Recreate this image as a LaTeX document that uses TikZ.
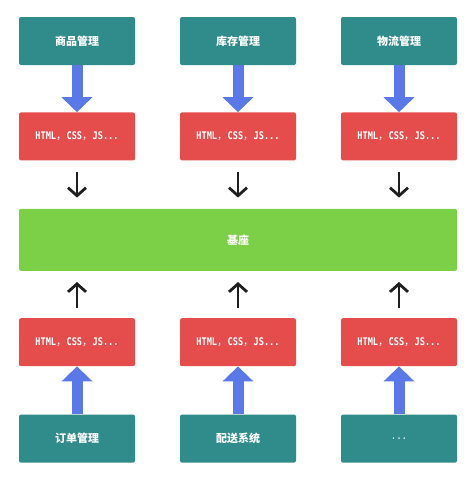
\documentclass[tikz,border=0pt]{standalone}
\usepackage{fontspec}
\newfontfamily\cjk{Noto Sans CJK SC}
\newfontfamily\codefont[FakeStretch=0.82]{DejaVu Sans Mono}
\usetikzlibrary{positioning,arrows.meta}
\definecolor{teal1}{RGB}{47,140,138}
\definecolor{red1}{RGB}{229,77,77}
\definecolor{green1}{RGB}{123,208,72}
\definecolor{blue1}{RGB}{91,120,232}
\newcommand{\webstack}{{\codefont\bfseries HTML{\cjk\mdseries ，}CSS{\cjk\mdseries ，}JS...}}

\begin{document}
\begin{tikzpicture}[module/.style = {rectangle, fill=teal1, text=white, font=\cjk\bfseries\fontsize{11}{13}\selectfont, minimum width=116pt, minimum height=48pt, inner sep=0pt, rounded corners=2pt}, front/.style = {rectangle, fill=red1, text=white, font=\fontsize{10.5}{12}\selectfont, minimum width=116pt, minimum height=48pt, inner sep=0pt, rounded corners=2pt}, base/.style = {rectangle, fill=green1, text=white, font=\cjk\bfseries\fontsize{11}{13}\selectfont, minimum width=438pt, minimum height=62pt, inner sep=0pt, rounded corners=2pt}, fat/.style = {draw=blue1, line width=11pt, -{Triangle[length=15pt,width=30pt]}}, line/.style = {draw=black!88, line width=2.8pt, -{Straight Barb[length=8pt,width=18pt]}}, node distance = 47pt]
			\useasboundingbox[fill=white] (0,0) rectangle (474pt,-479pt);
			\node[module] (goods) at (77pt,-41pt) {商品管理};
			\node[module] (stock) at (238pt,-41pt) {库存管理};
			\node[module] (logistics) at (399pt,-41pt) {物流管理};
			\node[front,below=of goods] (fgoods) {\webstack};
			\node[front,below=of stock] (fstock) {\webstack};
			\node[front,below=of logistics] (flogistics) {\webstack};
			\node[base,below=48pt of fstock] (base) {基座};
			\node[front,below=of base.south-|fgoods] (forder) {\webstack};
			\node[front,below=of base.south-|fstock] (fdelivery) {\webstack};
			\node[front,below=of base.south-|flogistics] (fmore) {\webstack};
			\node[module,below=48pt of forder] (order) {订单管理};
			\node[module,below=48pt of fdelivery] (delivery) {配送系统};
			\node[module,below=48pt of fmore] (more) {{\codefont\mdseries ...}};
			
			\path[fat] (goods) -- (fgoods);
			\path[fat] (stock) -- (fstock);
			\path[fat] (logistics) -- (flogistics);
			\path[fat] (order) -- (forder);
			\path[fat] (delivery) -- (fdelivery);
			\path[fat] (more) -- (fmore);
			\path[line,shorten <=11pt,shorten >=11pt] (fgoods) -- (fgoods|-base.north);
			\path[line,shorten <=11pt,shorten >=11pt] (fstock) -- (fstock|-base.north);
			\path[line,shorten <=11pt,shorten >=11pt] (flogistics) -- (flogistics|-base.north);
			\path[line,shorten <=10pt,shorten >=11pt] (forder) -- (forder|-base.south);
			\path[line,shorten <=10pt,shorten >=11pt] (fdelivery) -- (fdelivery|-base.south);
			\path[line,shorten <=10pt,shorten >=11pt] (fmore) -- (fmore|-base.south);
			\end{tikzpicture}
\end{document}
